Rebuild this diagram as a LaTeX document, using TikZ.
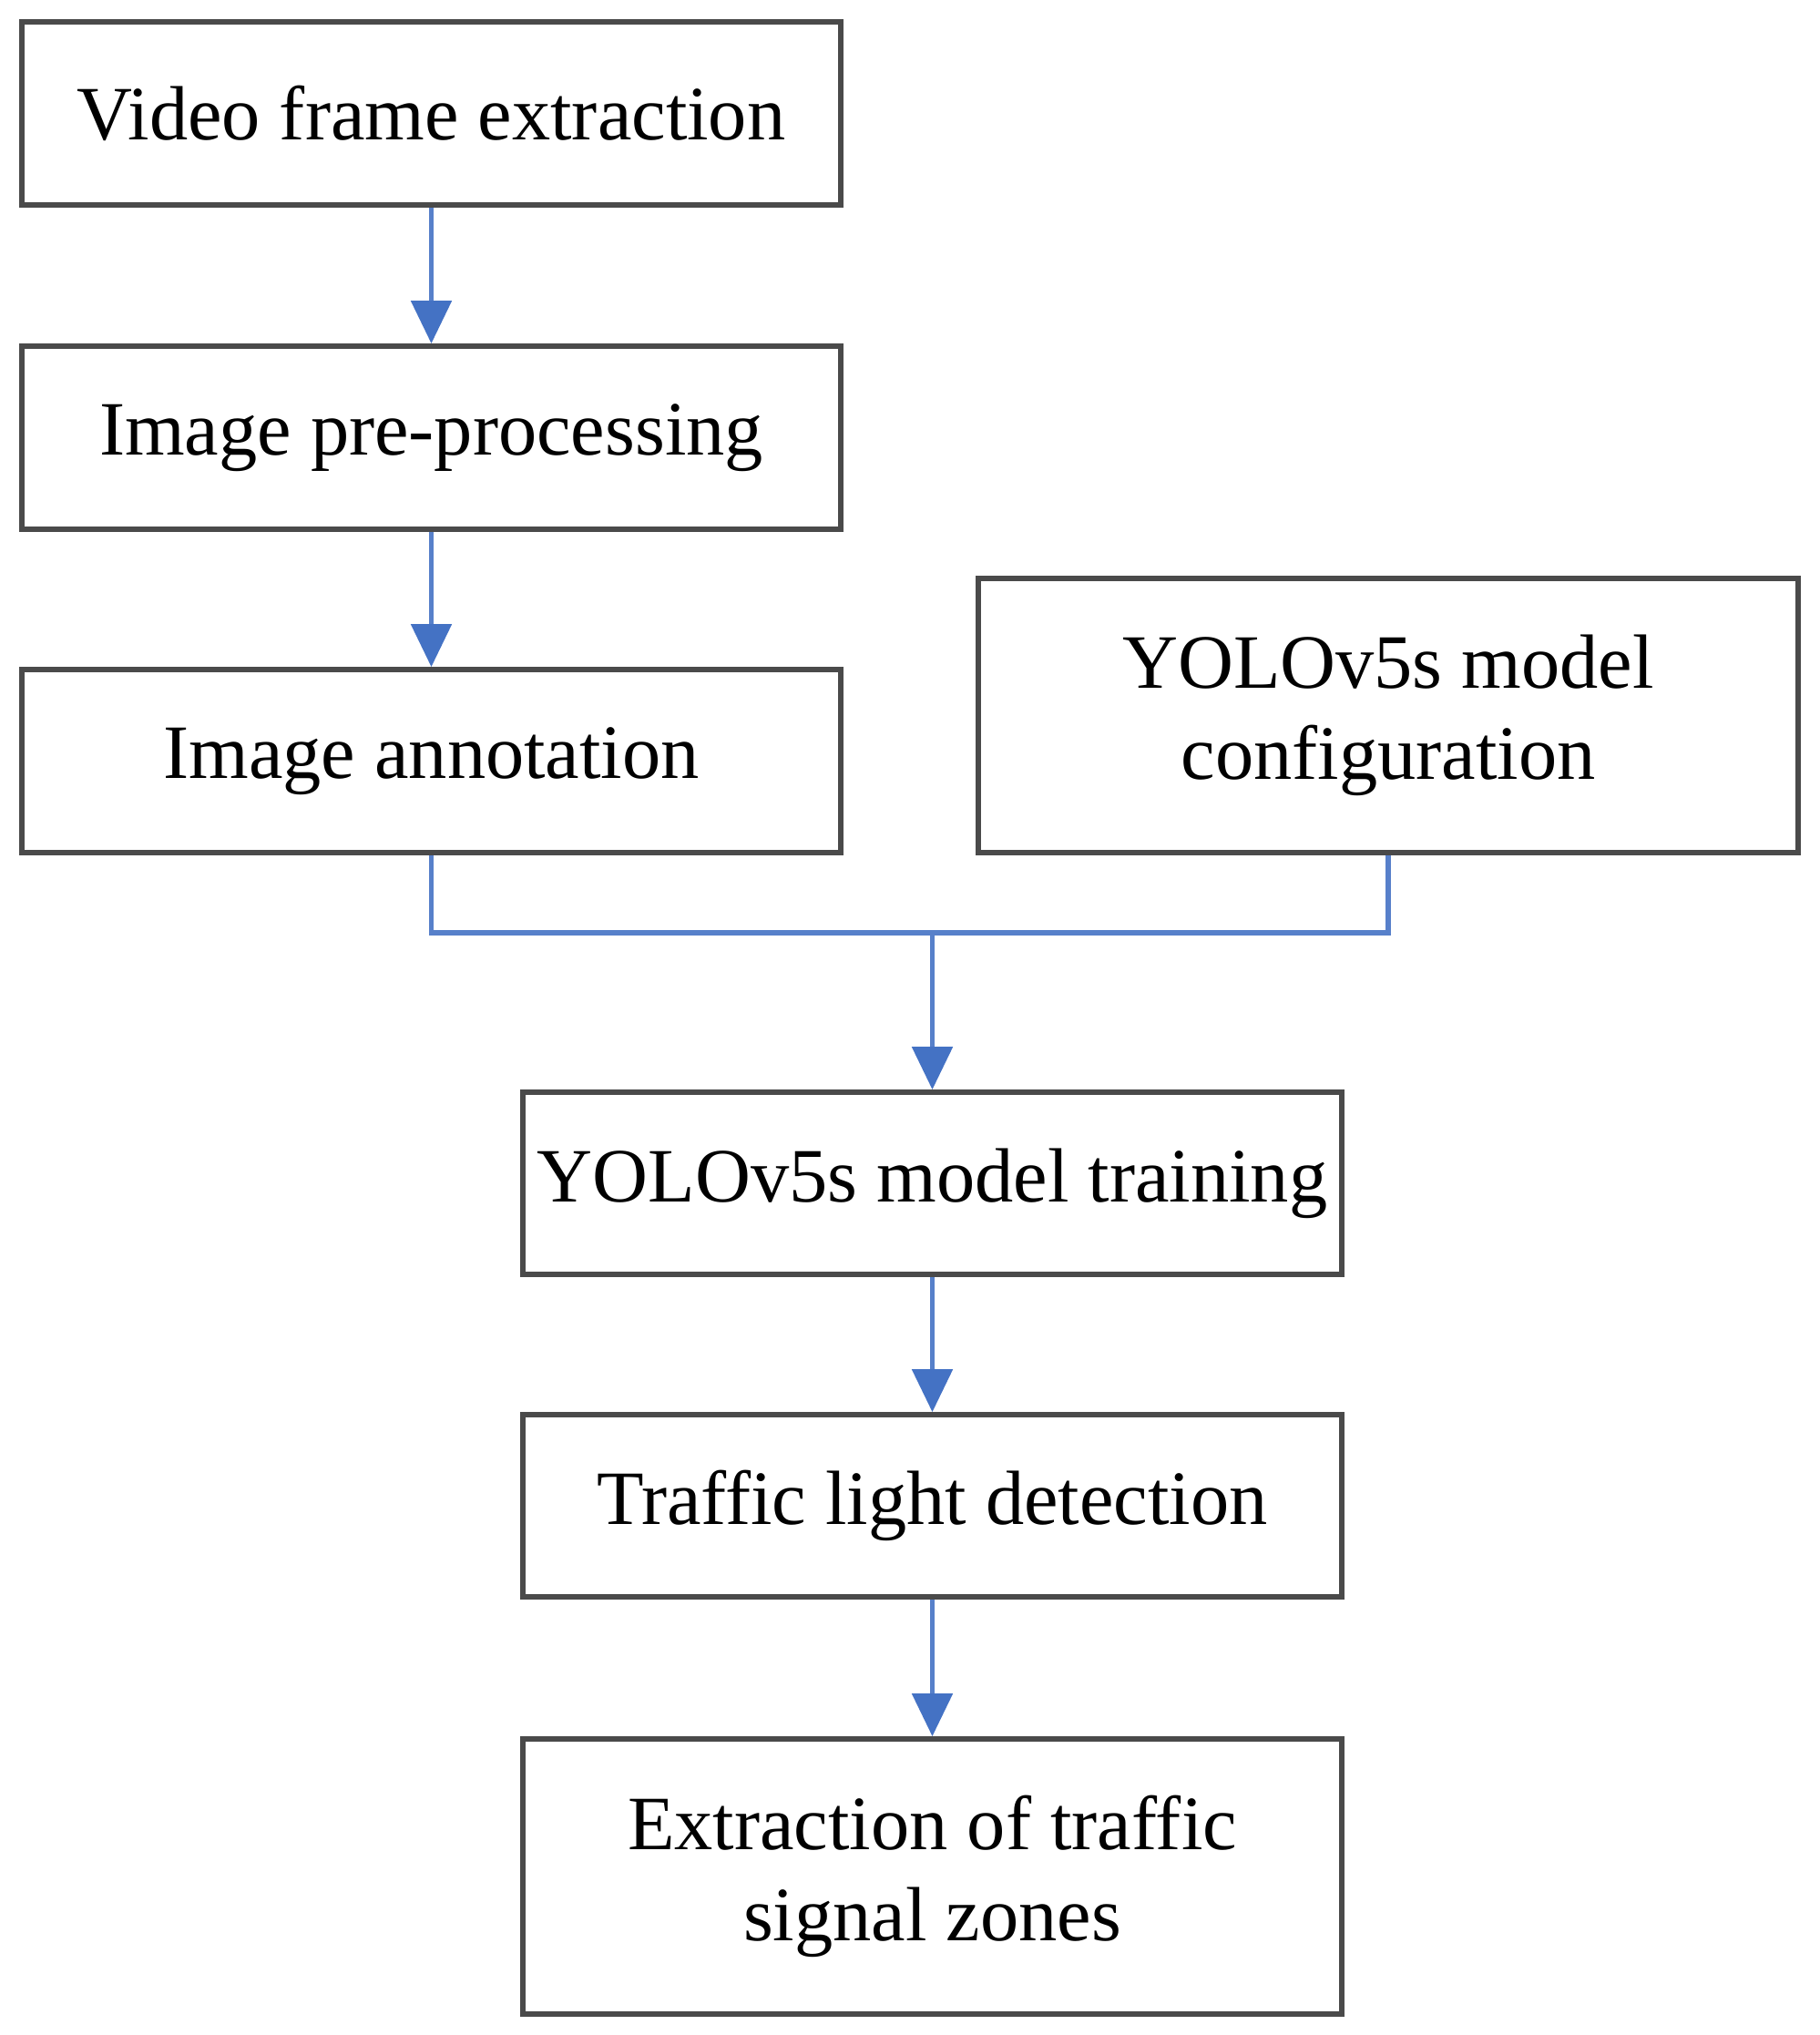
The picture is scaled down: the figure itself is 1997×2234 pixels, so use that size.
\documentclass[tikz,border=0pt]{standalone}
\usepackage{fontspec}
\setmainfont{Liberation Serif}
\usetikzlibrary{arrows.meta}
\definecolor{lineblue}{HTML}{4472C4}
\definecolor{boxline}{HTML}{4A4A4A}
\begin{document}
\begin{tikzpicture}[x=0.01cm,y=-0.01cm,
  stepbox/.style={draw=boxline,line width=1.6pt,rectangle,inner sep=0pt,
    minimum width=8.99cm,align=center,font=\fontsize{24}{28.5}\selectfont},
  flow/.style={draw=lineblue!90,line width=1.5pt},
  arr/.style={flow,-{Triangle[length=0.47cm,width=0.44cm,fill=lineblue,color=lineblue]}}]
\useasboundingbox (0,0) rectangle (1997,2234);
\node[stepbox,minimum height=2.01cm] (b1) at (473.5,124.5) {Video frame extraction};
\node[stepbox,minimum height=2.01cm] (b2) at (473.5,480.5) {Image pre-processing};
\node[stepbox,minimum height=2.01cm] (b3) at (473.5,835.5) {Image annotation};
\node[stepbox,minimum height=3.01cm] (cfg) at (1524,785.5) {YOLOv5s model\\configuration};
\node[stepbox,minimum height=2.00cm] (tr) at (1023.5,1299) {YOLOv5s model training};
\node[stepbox,minimum height=2.00cm] (det) at (1023.5,1653) {Traffic light detection};
\node[stepbox,minimum height=3.02cm] (ext) at (1023.5,2060) {Extraction of traffic\\signal zones};
\coordinate (jl) at (473.5,1024);
\coordinate (jr) at (1524,1024);
\coordinate (jm) at (1023.5,1024);
\draw[arr] (b1) -- (b2);
\draw[arr] (b2) -- (b3);
\draw[flow] (b3.south) -- (jl) -- (jr) -- (cfg.south);
\draw[arr] (jm) -- (tr.north);
\draw[arr] (tr) -- (det);
\draw[arr] (det) -- (ext);
\end{tikzpicture}
\end{document}
